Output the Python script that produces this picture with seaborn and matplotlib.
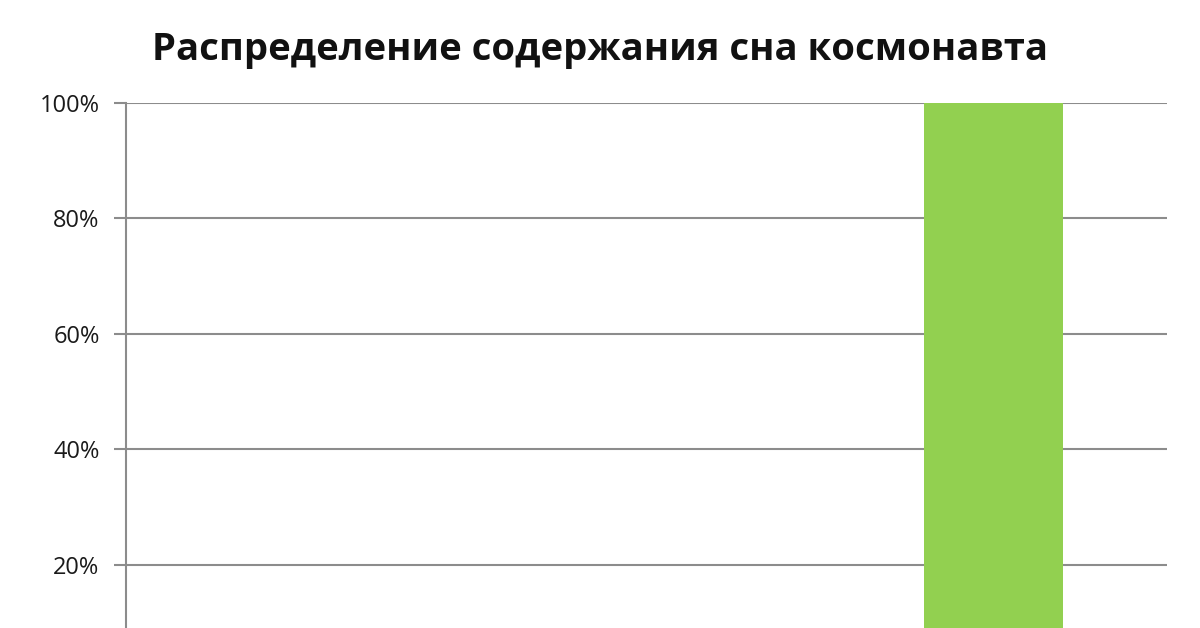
import pandas as pd
import numpy as np
import matplotlib.pyplot as plt
import seaborn as sns
from matplotlib.ticker import PercentFormatter

# Data (x labels are cut off in the reference, only the last bar is visible)
categories = ["A", "B", "C"]
values = [0, 0, 100]
yticks = [20, 40, 60, 80, 100]

df = pd.DataFrame({"cat": categories, "val": values})

sns.set_style("white")
plt.rcParams['font.family'] = ['Open Sans', 'DejaVu Sans']

fig = plt.figure(figsize=(12, 6.28), dpi=100)
# axes run past the bottom edge, the reference is cropped there
ax = fig.add_axes([126 / 1200, -52 / 628, (1167 - 126) / 1200, 577 / 628])

sns.barplot(data=df, x="cat", y="val", color="#92D050", width=0.4,
            saturation=1, linewidth=0, ax=ax)

ax.set_ylim(0, 100)
ax.set_yticks(yticks)
ax.yaxis.set_major_formatter(PercentFormatter(decimals=0))
ax.grid(axis='y', color='#8c8c8c', lw=1.5)
ax.set_axisbelow(True)
for s in ['top', 'right', 'bottom']:
    ax.spines[s].set_visible(False)
ax.spines['left'].set_color('#8c8c8c')
ax.spines['left'].set_linewidth(1.5)
ax.tick_params(axis='y', length=9, width=1.5, color='#8c8c8c',
               labelsize=17, labelcolor='#1a1a1a', pad=10, left=True)
ax.set_xticks([])
ax.set_xlabel('')
ax.set_ylabel('')

fig.text(0.5, 1 - 50 / 628, 'Распределение содержания сна космонавта',
         ha='center', va='center', fontsize=27.5, fontweight='bold',
         color='#111111')

plt.savefig('out.png', dpi=100)
